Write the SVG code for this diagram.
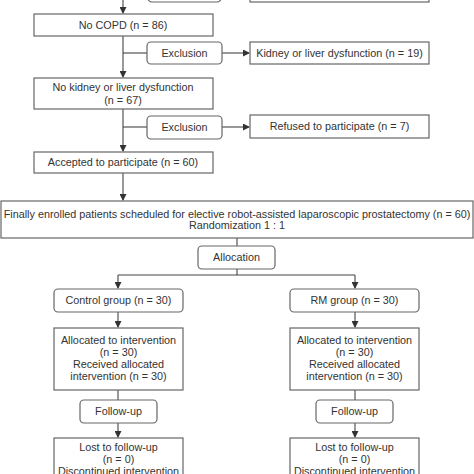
<svg xmlns="http://www.w3.org/2000/svg" width="474" height="474" viewBox="0 0 474 474">
<defs>
<marker id="ah" markerWidth="7" markerHeight="7" refX="6" refY="3.5" orient="auto" markerUnits="userSpaceOnUse">
<path d="M0,0 L7,3.5 L0,7 Z" fill="#333"/>
</marker>
<style>
.b{fill:#fff;stroke:#666;stroke-width:1.2}
.l{fill:none;stroke:#444;stroke-width:1.1}
text{font-family:"Liberation Sans",Arial,sans-serif;font-size:10.8px;fill:#333;text-anchor:middle}
</style>
</defs>
<rect width="474" height="474" fill="#fff"/>
<g id="connectors">
<path class="l" d="M123,-2 V13" marker-end="url(#ah)"/>
<path class="l" d="M123,36 V77" marker-end="url(#ah)"/>
<path class="l" d="M123,53 H147"/>
<path class="l" d="M222,53 H249" marker-end="url(#ah)"/>
<path class="l" d="M123,109 V151" marker-end="url(#ah)"/>
<path class="l" d="M123,127 H147"/>
<path class="l" d="M222,127 H249" marker-end="url(#ah)"/>
<path class="l" d="M123,173 V200" marker-end="url(#ah)"/>
<path class="l" d="M237,238 V246"/>
<path class="l" d="M237,269 V275 M118,275 H355"/>
<path class="l" d="M118,275 V288" marker-end="url(#ah)"/>
<path class="l" d="M355,275 V288" marker-end="url(#ah)"/>
<path class="l" d="M118,312 V327" marker-end="url(#ah)"/>
<path class="l" d="M355,312 V327" marker-end="url(#ah)"/>
<path class="l" d="M118,390 V400"/>
<path class="l" d="M355,390 V400"/>
<path class="l" d="M118,423 V437" marker-end="url(#ah)"/>
<path class="l" d="M355,423 V437" marker-end="url(#ah)"/>
</g>
<g id="top-left"><rect class="b" x="148" y="-20" width="73" height="22" rx="4"/></g>
<g id="top-right"><rect class="b" x="250" y="-20" width="179" height="22"/></g>
<g id="no-copd"><rect class="b" x="34" y="14" width="179" height="22"/><text x="123" y="29">No COPD (n = 86)</text></g>
<g id="excl1"><rect class="b" x="147" y="42" width="75" height="22" rx="4"/><text x="184.5" y="57">Exclusion</text></g>
<g id="kidney"><rect class="b" x="250" y="42" width="179" height="22"/><text x="339.5" y="57">Kidney or liver dysfunction (n = 19)</text></g>
<g id="no-kidney"><rect class="b" x="34" y="78" width="179" height="31"/><text x="123" y="91">No kidney or liver dysfunction</text><text x="123" y="104">(n = 67)</text></g>
<g id="excl2"><rect class="b" x="147" y="116" width="75" height="23" rx="4"/><text x="184.5" y="131">Exclusion</text></g>
<g id="refused"><rect class="b" x="250" y="115" width="179" height="23"/><text x="339.5" y="130">Refused to participate (n = 7)</text></g>
<g id="accepted"><rect class="b" x="34" y="152" width="179" height="21"/><text x="123" y="166">Accepted to participate (n = 60)</text></g>
<g id="enrolled"><rect class="b" x="1" y="201" width="472" height="37"/><text x="237" y="218">Finally enrolled patients scheduled for elective robot-assisted laparoscopic prostatectomy (n = 60)</text><text x="237" y="229">Randomization 1 : 1</text></g>
<g id="allocation"><rect class="b" x="198" y="246" width="77" height="23" rx="4"/><text x="236.5" y="261">Allocation</text></g>
<g id="control"><rect class="b" x="54" y="289" width="129" height="23" rx="4"/><text x="118.5" y="304">Control group (n = 30)</text></g>
<g id="rm"><rect class="b" x="290" y="289" width="129" height="23" rx="4"/><text x="354.5" y="304">RM group (n = 30)</text></g>
<g id="alloc-left"><rect class="b" x="54" y="328" width="129" height="62"/><text x="118.5" y="344">Allocated to intervention</text><text x="118.5" y="356">(n = 30)</text><text x="118.5" y="368">Received allocated</text><text x="118.5" y="380">intervention (n = 30)</text></g>
<g id="alloc-right"><rect class="b" x="290" y="328" width="129" height="62"/><text x="354.5" y="344">Allocated to intervention</text><text x="354.5" y="356">(n = 30)</text><text x="354.5" y="368">Received allocated</text><text x="354.5" y="380">intervention (n = 30)</text></g>
<g id="fu-left"><rect class="b" x="80" y="400" width="77" height="23" rx="4"/><text x="118.5" y="415">Follow-up</text></g>
<g id="fu-right"><rect class="b" x="316" y="400" width="77" height="23" rx="4"/><text x="354.5" y="415">Follow-up</text></g>
<g id="lost-left"><rect class="b" x="54" y="438" width="129" height="50"/><text x="118.5" y="451">Lost to follow-up</text><text x="118.5" y="463">(n = 0)</text><text x="118.5" y="475">Discontinued intervention</text></g>
<g id="lost-right"><rect class="b" x="290" y="438" width="129" height="50"/><text x="354.5" y="451">Lost to follow-up</text><text x="354.5" y="463">(n = 0)</text><text x="354.5" y="475">Discontinued intervention</text></g>
</svg>
